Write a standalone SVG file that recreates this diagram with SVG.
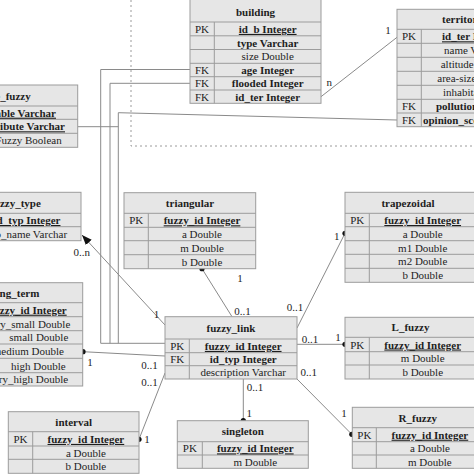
<svg xmlns="http://www.w3.org/2000/svg" width="474" height="474" viewBox="0 0 474 474">
<defs>
<style>
.tb{fill:#e6e6e6;stroke:#9c9c9c;stroke-width:1}
.ln{fill:none;stroke:#9c9c9c;stroke-width:1}
text{font-family:"Liberation Serif","Times New Roman",serif;font-size:11px;fill:#1e1e1e}
.t{font-weight:bold;text-anchor:middle}
.b{font-weight:bold;text-anchor:middle}
.n{text-anchor:middle}
.u{text-decoration:underline}
.s{text-anchor:start}
.e{text-anchor:end}
.c{fill:none;stroke:#8a8a8a;stroke-width:1}
.d{fill:none;stroke:#9a9a9a;stroke-width:1;stroke-dasharray:2 3}
.lb{text-anchor:middle}
</style>
<marker id="dot" viewBox="-3 -3 6 6" refX="0" refY="0" markerWidth="6" markerHeight="6" markerUnits="userSpaceOnUse"><circle r="2.6" fill="#111"/></marker>
<marker id="arr" viewBox="0 0 10 8" refX="10" refY="4" markerWidth="10" markerHeight="8" orient="auto" markerUnits="userSpaceOnUse"><path d="M0,0 L10,4 L0,8 z" fill="#111"/></marker>
</defs>

<g id="connectors">
<path class="d" d="M131 0 V146 H474"/>
<path class="c" d="M190 69.5 H100.7 V343.3 H165"/>
<path class="c" d="M190 83.3 H110 V343.3"/>
<path class="c" d="M397 120 L118.3 112.7 V343.3"/>
<path class="c" d="M77.7 126.7 H118.3"/>
<path class="c" d="M321 96.7 L397 37.3"/>
<path class="c" d="M165 325 L82 235" marker-end="url(#arr)"/>
<path class="c" d="M232 316.7 L202 268.7" marker-end="url(#dot)"/>
<path class="c" d="M297 328 L345 233.3" marker-end="url(#dot)"/>
<path class="c" d="M297 344.3 H345" marker-end="url(#dot)"/>
<path class="c" d="M297 379 L351.8 434.3" marker-end="url(#dot)"/>
<path class="c" d="M243.3 379 V420.7" marker-end="url(#dot)"/>
<path class="c" d="M165 373 L139 439.3" marker-end="url(#dot)"/>
<path class="c" d="M165 356 L83 351.7" marker-end="url(#dot)"/>
<text class="lb" x="329.3" y="86">n</text>
<text class="lb" x="388" y="34">1</text>
<text class="lb" x="81.7" y="256">0..n</text>
<text class="lb" x="156.5" y="318">1</text>
<text class="lb" x="240" y="282">1</text>
<text class="lb" x="242.5" y="315">0..1</text>
<text class="lb" x="295" y="311">0..1</text>
<text class="lb" x="336.7" y="240">1</text>
<text class="lb" x="310" y="343">0..1</text>
<text class="lb" x="338" y="341">1</text>
<text class="lb" x="308.7" y="376">0..1</text>
<text class="lb" x="344" y="417">1</text>
<text class="lb" x="255" y="391">0..1</text>
<text class="lb" x="249.3" y="417">1</text>
<text class="lb" x="90" y="365.7">1</text>
<text class="lb" x="149.5" y="369">0..1</text>
<text class="lb" x="149.5" y="386">0..1</text>
<text class="lb" x="147" y="443.3">1</text>
</g>

<g id="building">
<rect class="tb" x="190" y="-1" width="131" height="104.3"/>
<path class="ln" d="M190 22H321M190 35.8H321M190 49.5H321M190 63.3H321M190 76.7H321M190 90H321M214.3 22V103.3"/>
<text class="t" x="255.5" y="15.5">building</text>
<text class="n" x="202" y="32.9">PK</text>
<text class="b u" x="267.7" y="32.9">id_b Integer</text>
<text class="b" x="267.7" y="46.6">type Varchar</text>
<text class="n" x="267.7" y="60.4">size Double</text>
<text class="n" x="202" y="74">FK</text>
<text class="b" x="267.7" y="74">age Integer</text>
<text class="n" x="202" y="87.3">FK</text>
<text class="b" x="267.7" y="87.3">flooded Integer</text>
<text class="n" x="202" y="100.7">FK</text>
<text class="b" x="267.7" y="100.7">id_ter Integer</text>
</g>

<g id="territory">
<rect class="tb" x="397" y="9.3" width="132" height="117.4"/>
<path class="ln" d="M397 29.3H529M397 43.3H529M397 57.3H529M397 71.3H529M397 85.3H529M397 99.3H529M397 113H529M421.3 29.3V126.7"/>
<text class="t s" x="442" y="23.3">territory</text>
<text class="n" x="409" y="40.3">PK</text>
<text class="b u s" x="442" y="40.3">id_ter Integer</text>
<text class="s" x="444" y="54.3">name Varchar</text>
<text class="s" x="440.7" y="68.3">altitude Double</text>
<text class="s" x="437.3" y="82.3">area-size Double</text>
<text class="s" x="443" y="96.3">inhabitants Integer</text>
<text class="n" x="409" y="110.2">FK</text>
<text class="b s" x="436" y="110.2">pollution Integer</text>
<text class="n" x="409" y="123.8">FK</text>
<text class="b s" x="423" y="123.8">opinion_score Integer</text>
</g>

<g id="attribute_fuzzy">
<rect class="tb" x="-52" y="85" width="129.7" height="62.3"/>
<path class="ln" d="M-52 106H77.7M-52 119.3H77.7M-52 133.3H77.7M-28 106V147.3"/>
<text class="t e" x="30.7" y="99.5">attribute_fuzzy</text>
<text class="n" x="-40" y="116.7">PK</text>
<text class="b u e" x="56" y="116.7">table Varchar</text>
<text class="n" x="-40" y="130.3">PK</text>
<text class="b u e" x="65" y="130.3">attribute Varchar</text>
<text class="e" x="61.7" y="144.3">isFuzzy Boolean</text>
</g>

<g id="fuzzy_type">
<rect class="tb" x="-50" y="192.3" width="131" height="48.4"/>
<path class="ln" d="M-50 213.3H81M-50 226.7H81M-27 213.3V240.7"/>
<text class="t" x="15.5" y="206.8">fuzzy_type</text>
<text class="n" x="-38.5" y="224">PK</text>
<text class="b u" x="27" y="224">id_typ Integer</text>
<text class="n" x="27" y="237.7">typ_name Varchar</text>
</g>

<g id="ling_term">
<rect class="tb" x="-50" y="282.7" width="132.7" height="103.3"/>
<path class="ln" d="M-50 302.7H82.7M-50 316.7H82.7M-50 330.7H82.7M-50 344H82.7M-50 358.3H82.7M-50 372.7H82.7M-26 302.7V386"/>
<text class="t" x="16.4" y="296.7">ling_term</text>
<text class="n" x="-38" y="313.7">PK</text>
<text class="b u" x="28.3" y="313.7">fuzzy_id Integer</text>
<text class="n" x="28.3" y="327.7">very_small Double</text>
<text class="e" x="68.3" y="341.3">small Double</text>
<text class="n" x="28.3" y="355.2">medium Double</text>
<text class="e" x="65.7" y="369.5">high Double</text>
<text class="n" x="28.3" y="383.3">very_high Double</text>
</g>

<g id="triangular">
<rect class="tb" x="124" y="192.7" width="131.7" height="76"/>
<path class="ln" d="M124 213.3H255.7M124 227.3H255.7M124 240.7H255.7M124 254.7H255.7M148.3 213.3V268.7"/>
<text class="t" x="190" y="207">triangular</text>
<text class="n" x="136.2" y="224.3">PK</text>
<text class="b u" x="202" y="224.3">fuzzy_id Integer</text>
<text class="n" x="202" y="238">a Double</text>
<text class="n" x="202" y="251.7">m Double</text>
<text class="n" x="202" y="265.7">b Double</text>
</g>

<g id="trapezoidal">
<rect class="tb" x="345" y="192.3" width="131" height="90"/>
<path class="ln" d="M345 213.3H476M345 226.7H476M345 240.7H476M345 254.3H476M345 268.3H476M369.3 213.3V282.3"/>
<text class="t" x="408" y="206.8">trapezoidal</text>
<text class="n" x="357.2" y="224">PK</text>
<text class="b u" x="422.7" y="224">fuzzy_id Integer</text>
<text class="n" x="422.7" y="237.7">a Double</text>
<text class="n" x="422.7" y="251.5">m1 Double</text>
<text class="n" x="422.7" y="265.3">m2 Double</text>
<text class="n" x="422.7" y="279.3">b Double</text>
</g>

<g id="fuzzy_link">
<rect class="tb" x="165" y="316.7" width="132" height="62.3"/>
<path class="ln" d="M165 339H297M165 352.7H297M165 365.7H297M189.3 339V379"/>
<text class="t" x="231" y="331.9">fuzzy_link</text>
<text class="n" x="177.2" y="349.9">PK</text>
<text class="b u" x="243.2" y="349.9">fuzzy_id Integer</text>
<text class="n" x="177.2" y="363.2">FK</text>
<text class="b" x="243.2" y="363.2">id_typ Integer</text>
<text class="n" x="243.2" y="376.4">description Varchar</text>
</g>

<g id="L_fuzzy">
<rect class="tb" x="345" y="317.3" width="131" height="61.7"/>
<path class="ln" d="M345 337.3H476M345 351.7H476M345 365H476M369.3 337.3V379"/>
<text class="t" x="410.5" y="331.3">L_fuzzy</text>
<text class="n" x="357.2" y="348.5">PK</text>
<text class="b u" x="422.7" y="348.5">fuzzy_id Integer</text>
<text class="n" x="422.7" y="362.3">m Double</text>
<text class="n" x="422.7" y="376">b Double</text>
</g>

<g id="singleton">
<rect class="tb" x="177.3" y="420.7" width="131" height="47.6"/>
<path class="ln" d="M177.3 441.7H308.3M177.3 455H308.3M202.3 441.7V468.3"/>
<text class="t" x="242.8" y="435.2">singleton</text>
<text class="n" x="189.8" y="452.4">PK</text>
<text class="b u" x="255.3" y="452.4">fuzzy_id Integer</text>
<text class="n" x="255.3" y="465.7">m Double</text>
</g>

<g id="interval">
<rect class="tb" x="8.3" y="411.7" width="130.7" height="61.6"/>
<path class="ln" d="M8.3 431.7H139M8.3 446H139M8.3 459.3H139M32.7 431.7V473.3"/>
<text class="t" x="73.7" y="425.7">interval</text>
<text class="n" x="20.5" y="442.9">PK</text>
<text class="b u" x="85.9" y="442.9">fuzzy_id Integer</text>
<text class="n" x="85.9" y="456.7">a Double</text>
<text class="n" x="85.9" y="470.3">b Double</text>
</g>

<g id="R_fuzzy">
<rect class="tb" x="352.3" y="407.3" width="131" height="61"/>
<path class="ln" d="M352.3 427.7H483.3M352.3 441.7H483.3M352.3 455H483.3M376.3 427.7V468.3"/>
<text class="t" x="417.8" y="421.5">R_fuzzy</text>
<text class="n" x="364.3" y="438.7">PK</text>
<text class="b u" x="429.9" y="438.7">fuzzy_id Integer</text>
<text class="n" x="429.9" y="452.3">a Double</text>
<text class="n" x="429.9" y="465.7">m Double</text>
</g>
</svg>
